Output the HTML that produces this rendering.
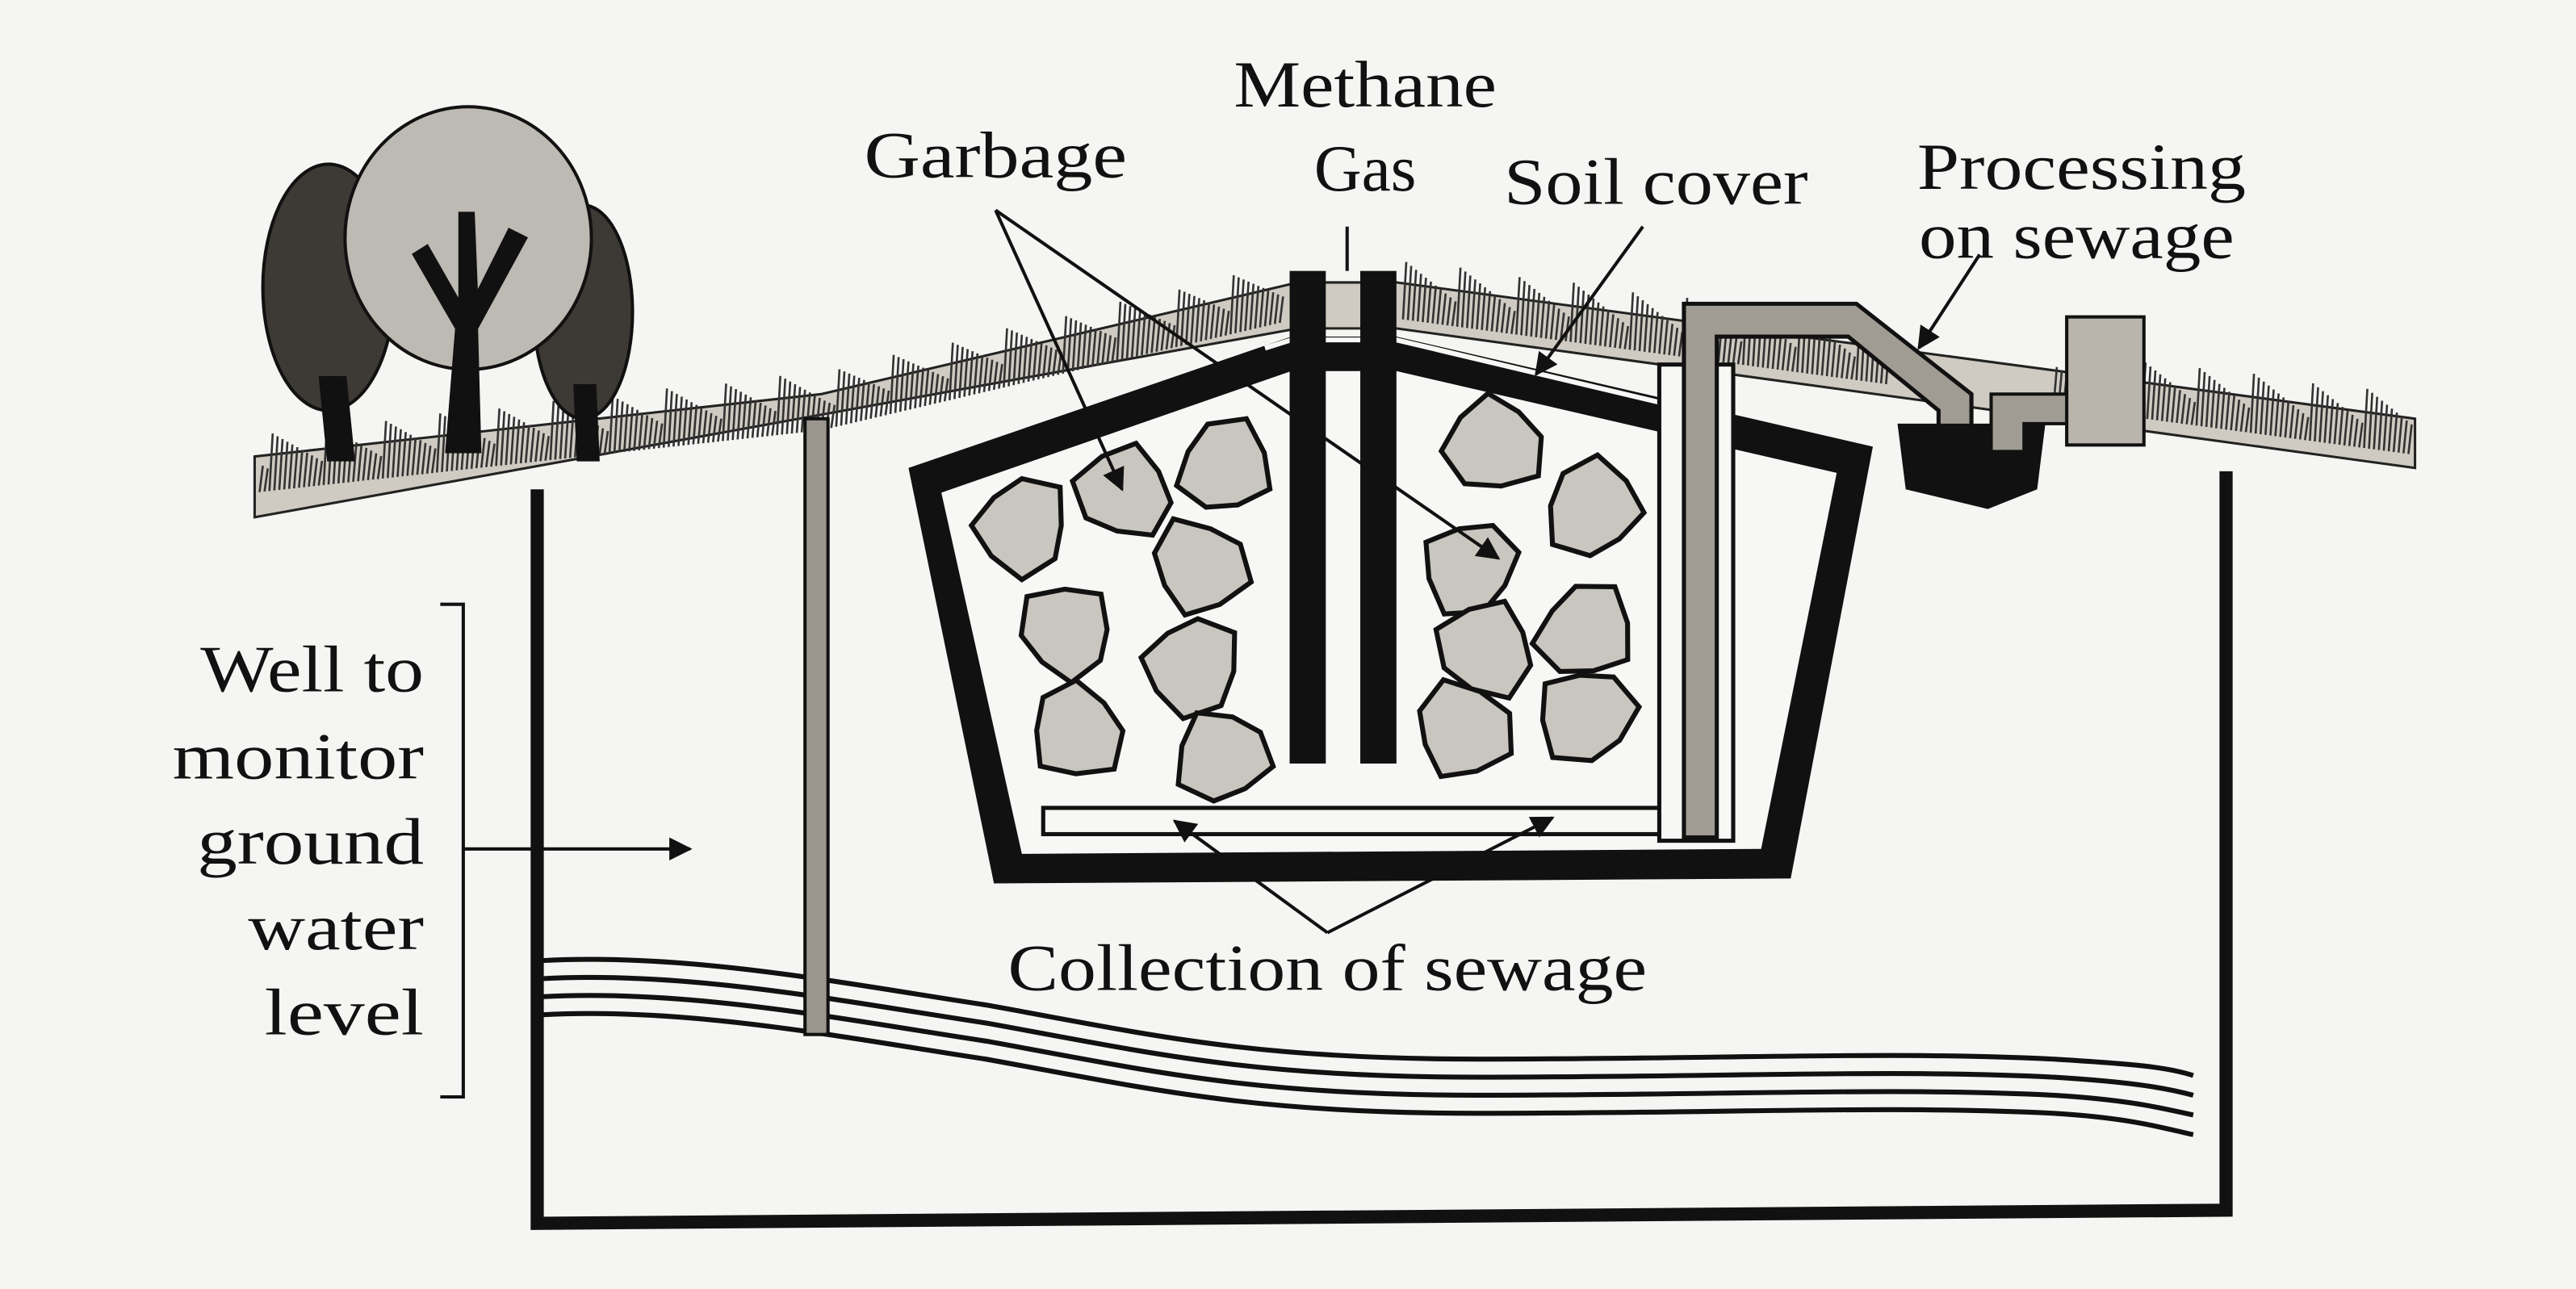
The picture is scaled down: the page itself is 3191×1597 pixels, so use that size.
<!DOCTYPE html>
<html><head><meta charset="utf-8"><style>
html,body{margin:0;padding:0;background:#f5f5f3}
svg{display:block}
text{font-family:"Liberation Serif",serif;fill:#111}
</style></head><body>
<svg id="s" width="3191" height="1597" viewBox="0 0 1568 785" preserveAspectRatio="none" xmlns="http://www.w3.org/2000/svg">
<defs><marker id="a" viewBox="0 0 10 10" refX="9" refY="5" markerWidth="7" markerHeight="7" orient="auto"><path d="M0,0L10,5L0,10z" fill="#111"/></marker></defs>
<rect width="1568" height="785" fill="#f5f5f3"/>
<!-- ground band -->
<path d="M155,278 L500,240 L790,172 L850,172 L1470,255 L1470,285 L850,200 L790,200 L155,315Z" fill="#cfcbc2" stroke="#222" stroke-width="1.5"/>
<g id="grass" stroke="#333" stroke-width="1.3" fill="none"></g>
<!-- outer container -->
<path d="M327,298 L327,745 L1355,737 L1355,287" fill="none" stroke="#111" stroke-width="8"/>
<!-- water lines -->
<g fill="none" stroke="#111" stroke-width="3">
<path d="M330,585 C420,580 520,600 600,612 C700,630 760,645 900,645 C1050,645 1150,640 1250,645 C1300,648 1320,650 1335,655"/>
<path d="M330,596 C420,591 520,611 600,623 C700,641 760,656 900,656 C1050,656 1150,651 1250,656 C1300,659 1320,663 1335,667"/>
<path d="M330,607 C420,602 520,622 600,634 C700,652 760,667 900,667 C1050,667 1150,662 1250,667 C1300,670 1320,676 1335,679"/>
<path d="M330,618 C420,613 520,633 600,645 C700,663 760,678 900,678 C1050,678 1150,673 1250,678 C1300,681 1320,688 1335,691"/>
</g>
<!-- well pipe -->
<rect x="490" y="255" width="14" height="375" fill="#9a968e" stroke="#111" stroke-width="2"/>
<!-- landfill -->
<path d="M553,285 L786,205 L850,205 L1140,272 L1090,535 L605,538Z" fill="#111"/>
<path d="M573,300 L786,226 L850,226 L1118,288 L1072,517 L622,520Z" fill="#f7f7f5"/>
<path d="M770,212 L786,207 L850,207 L1010,245" fill="none" stroke="#f7f7f5" stroke-width="3"/>
<!-- blobs -->
<g fill="#c9c6bf" stroke="#111" stroke-width="3" id="blobs"></g>
<!-- methane pipes -->
<rect x="785" y="165" width="22" height="300" fill="#111"/>
<rect x="828" y="165" width="22" height="300" fill="#111"/>
<line x1="820" y1="138" x2="820" y2="165" stroke="#111" stroke-width="2"/>
<!-- collection pipe -->
<rect x="635" y="492" width="378" height="16" fill="#f7f7f5" stroke="#111" stroke-width="2.5"/>
<rect x="1010" y="222" width="45" height="290" fill="#f7f7f5" stroke="#111" stroke-width="2.5"/>
<!-- processing pipe -->
<path d="M1025,510 L1025,185 L1130,185 L1200,240 L1200,262 L1180,262 L1180,250 L1125,205 L1045,205 L1045,510Z" fill="#a09c94" stroke="#111" stroke-width="2.5"/>
<path d="M1155,258 L1245,258 L1240,298 L1210,310 L1160,298Z" fill="#111"/>
<path d="M1212,240 L1270,240 L1270,258 L1232,258 L1232,275 L1212,275Z" fill="#a09c94" stroke="#111" stroke-width="2"/>
<rect x="1258" y="193" width="47" height="78" fill="#b9b5ad" stroke="#111" stroke-width="2"/>
<!-- trees -->
<g stroke="#111" stroke-width="2">
<ellipse cx="200" cy="175" rx="40" ry="75" fill="#3d3a35"/>
<ellipse cx="355" cy="190" rx="30" ry="65" fill="#3d3a35"/>
<ellipse cx="285" cy="145" rx="75" ry="80" fill="#bdbab3"/>
<path d="M195,230 L200,280 L215,280 L210,230Z" fill="#111"/>
<path d="M350,235 L352,280 L364,280 L362,235Z" fill="#111"/>
<path d="M278,200 L272,275 L292,275 L290,200 L320,145 L310,140 L290,180 L288,130 L280,130 L280,185 L260,150 L252,155Z" fill="#111"/>
</g>
<!-- labels -->
<g font-size="40">
<text x="831" y="65" text-anchor="middle" textLength="160" lengthAdjust="spacingAndGlyphs">Methane</text>
<text x="831" y="116" text-anchor="middle">Gas</text>
<text x="606" y="108" text-anchor="middle" textLength="160" lengthAdjust="spacingAndGlyphs">Garbage</text>
<text x="1008" y="124" text-anchor="middle" textLength="185" lengthAdjust="spacingAndGlyphs">Soil cover</text>
<text x="1267" y="115" text-anchor="middle" textLength="200" lengthAdjust="spacingAndGlyphs">Processing</text>
<text x="1264" y="157" text-anchor="middle" textLength="192" lengthAdjust="spacingAndGlyphs">on sewage</text>
<text x="258" y="421" text-anchor="end" textLength="136" lengthAdjust="spacingAndGlyphs">Well to</text>
<text x="258" y="474" text-anchor="end" textLength="153" lengthAdjust="spacingAndGlyphs">monitor</text>
<text x="258" y="526" text-anchor="end" textLength="138" lengthAdjust="spacingAndGlyphs">ground</text>
<text x="258" y="578" text-anchor="end" textLength="107" lengthAdjust="spacingAndGlyphs">water</text>
<text x="258" y="630" text-anchor="end" textLength="97" lengthAdjust="spacingAndGlyphs">level</text>
<text x="808" y="603" text-anchor="middle" textLength="389" lengthAdjust="spacingAndGlyphs">Collection of sewage</text>
</g>
<g stroke="#111" stroke-width="2" fill="none">
<path d="M268,368 L282,368 L282,668 L268,668"/>
<line x1="282" y1="517" x2="420" y2="517" marker-end="url(#a)"/>
<line x1="606" y1="128" x2="683" y2="298" marker-end="url(#a)"/>
<line x1="606" y1="128" x2="912" y2="340" marker-end="url(#a)"/>
<line x1="1000" y1="138" x2="935" y2="228" marker-end="url(#a)"/>
<line x1="1205" y1="155" x2="1168" y2="212" marker-end="url(#a)"/>
<line x1="808" y1="568" x2="715" y2="500" marker-end="url(#a)"/>
<line x1="808" y1="568" x2="945" y2="498" marker-end="url(#a)"/>
</g>
</svg>
<script>
(function(){
var g=document.getElementById('grass'),d='';
function gtop(x){if(x<500)return 278-(x-155)*38/345;if(x<790)return 240-(x-500)*68/290;if(x<850)return 172;return 172+(x-850)*83/620;}
for(var x=158;x<1468;x+=3){if(x>780&&x<852)continue;if(x>1150&&x<1250)continue;var y=gtop(x)+22,h=14+((x*7)%23);d+='M'+x+','+y+'L'+(x+((x*3)%9-4))+','+(y-h)+' ';}
var p=document.createElementNS('http://www.w3.org/2000/svg','path');p.setAttribute('d',d);g.appendChild(p);
var b=document.getElementById('blobs');
[[622,320],[685,300],[745,285],[910,270],[970,310],[730,345],[895,345],[650,385],[725,405],[905,395],[965,385],[655,445],[745,460],[890,445],[965,435]].forEach(function(c,i){
var r=30,pts=[];for(var k=0;k<8;k++){var a=k*Math.PI/4+i,rr=r*(0.8+0.3*((k*7+i*3)%5)/4);pts.push((c[0]+rr*Math.cos(a)).toFixed(1)+','+(c[1]+rr*Math.sin(a)).toFixed(1));}
var q=document.createElementNS('http://www.w3.org/2000/svg','polygon');q.setAttribute('points',pts.join(' '));b.appendChild(q);});
})();
</script>
</body></html>
